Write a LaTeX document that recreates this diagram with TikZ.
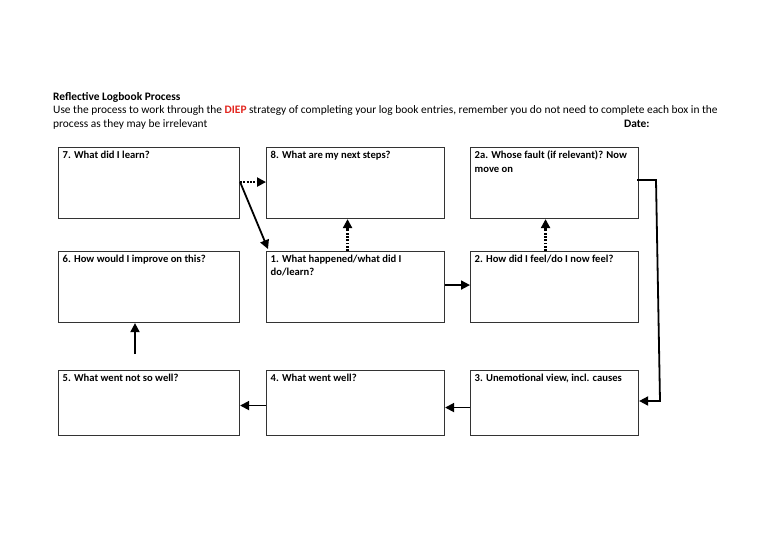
\documentclass[tikz,border=0pt]{standalone}
\usepackage{fontspec}
\setmainfont{Carlito}
\usetikzlibrary{arrows.meta}
\definecolor{boxline}{HTML}{333333}
\definecolor{diepred}{HTML}{E3261F}
\begin{document}
\begin{tikzpicture}[x=1pt,y=-1pt,
  stepbox/.style={draw=boxline,line width=1.1pt,minimum width=#1,minimum height=71pt,anchor=north west,inner sep=0pt},
  lowbox/.style={draw=boxline,line width=1.1pt,minimum width=#1,minimum height=65pt,anchor=north west,inner sep=0pt},
  boxlabel/.style={anchor=north west,font=\fontsize{10.6}{13.5}\selectfont\bfseries,align=left,inner sep=0pt},
  headtext/.style={anchor=base west,inner sep=0pt,font=\fontsize{11.4}{13}\selectfont},
  solidarrow/.style={line width=1.8pt,-{Triangle[length=9pt,width=9pt]}},
  dotarrow/.style={line width=2.2pt,dash pattern=on 1.8pt off 1.5pt,-{Triangle[length=9pt,width=9pt]}},
  plainline/.style={line width=1.8pt}]
\useasboundingbox (0,0) rectangle (768,543);
\fill[white] (0,0) rectangle (768,543);
% header
\node[headtext,font=\fontsize{11.4}{13}\selectfont\bfseries] (title) at (53,100) {Reflective Logbook Process};
\node[headtext] (line1) at (53,113.5) {Use the process to work through the \textcolor{diepred}{\textbf{DIEP}} strategy of completing your log book entries, remember you do not need to complete each box in the};
\node[headtext] (line2) at (53,127.5) {process as they may be irrelevant};
\node[headtext,font=\fontsize{11.4}{13}\selectfont\bfseries] (date) at (624,127.5) {Date:};
% boxes
\node[stepbox=181pt] (b7) at (58,147) {};
\node[stepbox=178pt] (b8) at (266,147) {};
\node[stepbox=168pt] (b2a) at (470,147) {};
\node[stepbox=181pt] (b6) at (58,251) {};
\node[stepbox=178pt] (b1) at (266,251) {};
\node[stepbox=168pt] (b2) at (470,251) {};
\node[lowbox=181pt] (b5) at (58,370) {};
\node[lowbox=178pt] (b4) at (266,370) {};
\node[lowbox=168pt] (b3) at (470,370) {};
% labels
\node[boxlabel] (l7) at ([xshift=4.5pt,yshift=-3.5pt]b7.north west) {7. What did I learn?};
\node[boxlabel] (l8) at ([xshift=4.5pt,yshift=-3.5pt]b8.north west) {8. What are my next steps?};
\node[boxlabel] (l2a) at ([xshift=4.5pt,yshift=-3.5pt]b2a.north west) {2a. Whose fault (if relevant)? Now\\move on};
\node[boxlabel] (l6) at ([xshift=4.5pt,yshift=-3.5pt]b6.north west) {6. How would I improve on this?};
\node[boxlabel] (l1) at ([xshift=4.5pt,yshift=-3.5pt]b1.north west) {1. What happened/what did I\\do/learn?};
\node[boxlabel] (l2) at ([xshift=4.5pt,yshift=-3.5pt]b2.north west) {2. How did I feel/do I now feel?};
\node[boxlabel] (l5) at ([xshift=4.5pt,yshift=-3.5pt]b5.north west) {5. What went not so well?};
\node[boxlabel] (l4) at ([xshift=4.5pt,yshift=-3.5pt]b4.north west) {4. What went well?};
\node[boxlabel] (l3) at ([xshift=4.5pt,yshift=-3.5pt]b3.north west) {3. Unemotional view, incl. causes};
% connectors
\draw[dotarrow] ([yshift=1pt]b7.east) -- ([yshift=1pt]b8.west);
\draw[solidarrow] ([yshift=1pt]b7.east) -- ([xshift=2pt,yshift=2pt]b1.north west);
\draw[dotarrow] ([xshift=-8pt]b1.north) -- ([xshift=-8pt]b8.south);
\draw[dotarrow] ([xshift=-9pt]b2.north) -- ([xshift=-9pt]b2a.south);
\draw[solidarrow] ([yshift=2pt]b1.east) -- ([yshift=2pt]b2.west);
\coordinate (c5) at (135,354);
\draw[solidarrow] (c5) -- (c5 |- b6.south);
\draw[solidarrow] ([yshift=-2.5pt]b4.west) -- ([yshift=-2.5pt]b5.east);
\draw[solidarrow] ([yshift=-4.5pt]b3.west) -- ([yshift=-4.5pt]b4.east);
\coordinate (r1) at (656,180);
\coordinate (r2) at (660,401);
\draw[plainline] ([xshift=-2pt]b2a.east |- r1) -- (r1) -- (r2);
\draw[solidarrow] ([xshift=0.9pt]r2) -- (b3.east |- r2);
\end{tikzpicture}
\end{document}
